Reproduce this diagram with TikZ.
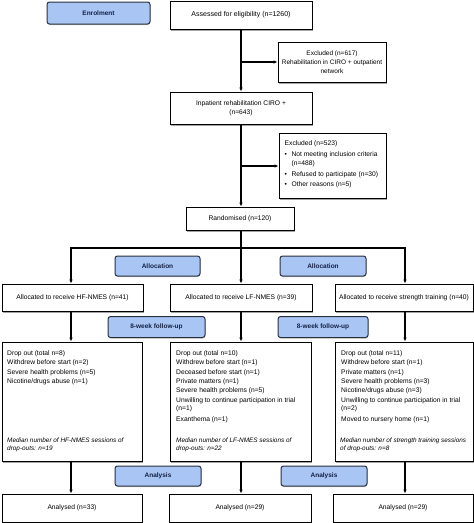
\documentclass[tikz,border=0pt]{standalone}
\usepackage{fontspec}
\setmainfont{Liberation Sans}
\usetikzlibrary{arrows.meta,shadows}
\definecolor{hdrfill}{RGB}{168,197,244}
\definecolor{hdrline}{RGB}{40,48,60}
\definecolor{hdrtext}{RGB}{22,34,70}
\begin{document}
\begin{tikzpicture}[x=1pt,y=-1pt,
  font=\fontsize{6.7}{8.5}\selectfont,
  box/.style={draw=black,line width=1pt,fill=white,inner sep=0pt,
    drop shadow={shadow xshift=0.6pt,shadow yshift=-1.8pt,fill=black!45,opacity=0.8}},
  hdr/.style={draw=hdrline,line width=1pt,fill=hdrfill,rounded corners=2.5pt,inner sep=0pt,
    font=\fontsize{6.5}{8}\selectfont\bfseries,text=hdrtext,
    drop shadow={shadow xshift=0.4pt,shadow yshift=-1pt,fill=black!30,opacity=0.6}},
  txt/.style={inner sep=0pt,align=left},
  lst/.style={txt,anchor=base west,font=\fontsize{6.7}{8.3}\selectfont},
  med/.style={txt,anchor=base west,font=\fontsize{6.4}{8.3}\selectfont\itshape},
  arr/.style={line width=1.1pt,-{Latex[length=4pt,width=3.6pt]}},
  ln/.style={line width=1.1pt}]
\useasboundingbox (0,0) rectangle (474,523);

% headers
\node[hdr,minimum width=103pt,minimum height=22pt] (enrol) at (98.5,13) {Enrolment};
\node[hdr,minimum width=85pt,minimum height=20pt] (alloc1) at (157.5,266) {Allocation};
\node[hdr,minimum width=86pt,minimum height=20pt] (alloc2) at (323,266) {Allocation};
\node[hdr,minimum width=97pt,minimum height=21pt] (fu1) at (156.5,327) {8-week follow-up};
\node[hdr,minimum width=90pt,minimum height=21pt] (fu2) at (323,327) {8-week follow-up};
\node[hdr,minimum width=86pt,minimum height=20pt] (an1) at (158,476) {Analysis};
\node[hdr,minimum width=86pt,minimum height=20pt] (an2) at (324,476) {Analysis};

% top boxes
\node[box,minimum width=142pt,minimum height=28pt,font=\fontsize{7}{8.5}\selectfont] (assess) at (241,15) {Assessed for eligibility (n=1260)};
\node[box,minimum width=108pt,minimum height=40pt,align=center,font=\fontsize{6.5}{9}\selectfont] (excl1) at (332,62)
  {Excluded (n=617)\\Rehabilitation in CIRO + outpatient\\network};
\node[box,minimum width=142pt,minimum height=32pt,align=center,font=\fontsize{6.7}{9}\selectfont] (inpat) at (241,108)
  {Inpatient rehabilitation CIRO +\\(n=643)};
\node[box,minimum width=107pt,minimum height=65pt] (excl2) at (332.5,165.5) {};
\node[txt,anchor=base west] (excl2t) at (284.5,145.5) {%
  \begin{tabular}[t]{@{}l@{\hspace{4.5pt}}l@{}}
  \multicolumn{2}{@{}l}{Excluded (n=523)}\\[2.5pt]
  \textbullet & Not meeting inclusion criteria\\
   & (n=488)\\[2.5pt]
  \textbullet & Refused to participate (n=30)\\[1.5pt]
  \textbullet & Other reasons (n=5)
  \end{tabular}};
\node[box,minimum width=108pt,minimum height=23pt] (rand) at (240,218.5) {Randomised (n=120)};

% allocated
\node[box,minimum width=141pt,minimum height=27pt] (allocA) at (72.5,297.5) {Allocated to receive HF-NMES (n=41)};
\node[box,minimum width=142pt,minimum height=27pt] (allocB) at (241,297.5) {Allocated to receive LF-NMES (n=39)};
\node[box,minimum width=138pt,minimum height=27pt] (allocC) at (404,297.5) {Allocated to receive strength training (n=40)};

% drop out
\node[box,minimum width=140pt,minimum height=119pt] (dropA) at (72,401.5) {};
\node[box,minimum width=141pt,minimum height=119pt] (dropB) at (240.5,401.5) {};
\node[box,minimum width=138pt,minimum height=119pt] (dropC) at (404,401.5) {};

\node[lst] (dropAt) at (7,355.5) {%
  \begin{tabular}[t]{@{}l@{}}
  Drop out (total n=8)\\[1pt]
  Withdrew before start (n=2)\\[1pt]
  Severe health problems (n=5)\\[1pt]
  Nicotine/drugs abuse (n=1)
  \end{tabular}};
\node[lst] (dropBt) at (176,355.5) {%
  \begin{tabular}[t]{@{}l@{}}
  Drop out (total n=10)\\[1pt]
  Withdrew before start (n=1)\\[1pt]
  Deceased before start (n=1)\\[1pt]
  Private matters (n=1)\\[1pt]
  Severe health problems (n=5)\\[1pt]
  Unwilling to continue participation in trial\\
  (n=1)\\[2.7pt]
  Exanthema (n=1)
  \end{tabular}};
\node[lst] (dropCt) at (341,355.5) {%
  \begin{tabular}[t]{@{}l@{}}
  Drop out (total n=11)\\[1pt]
  Withdrew before start (n=1)\\[1pt]
  Private matters (n=1)\\[1pt]
  Severe health problems (n=3)\\[1pt]
  Nicotine/drugs abuse (n=3)\\[1pt]
  Unwilling to continue participation in trial\\
  (n=2)\\[2.7pt]
  Moved to nursery home (n=1)
  \end{tabular}};

\node[med] (medA) at (7,442.5) {%
  \begin{tabular}[t]{@{}l@{}}Median number of HF-NMES sessions of\\drop-outs: n=19\end{tabular}};
\node[med] (medB) at (176,442.5) {%
  \begin{tabular}[t]{@{}l@{}}Median number of LF-NMES sessions of\\drop-outs: n=22\end{tabular}};
\node[med] (medC) at (340,442.5) {%
  \begin{tabular}[t]{@{}l@{}}Median number of strength training sessions\\of drop-outs: n=8\end{tabular}};

% analysed
\node[box,minimum width=140pt,minimum height=28pt] (anA) at (72,508) {Analysed (n=33)};
\node[box,minimum width=142pt,minimum height=28pt] (anB) at (240,508) {Analysed (n=29)};
\node[box,minimum width=140pt,minimum height=28pt] (anC) at (403,508) {Analysed (n=29)};

% connectors
\coordinate (c1) at (assess.south |- excl1.west);
\coordinate (c2) at (241,166);
\coordinate (jm) at (241,248);
\coordinate (jl) at (71,248);
\coordinate (jr) at (405,248);
\draw[arr] (assess.south) -- (inpat.north);
\draw[arr] (c1) -- (excl1.west);
\draw[arr] (inpat.south) -- (inpat.south |- rand.north);
\draw[arr] (c2) -- (c2 -| excl2.west);
\draw[ln] (rand.south -| jm) -- (jm);
\draw[ln,line cap=rect] (jl) -- (jr);
\draw[arr] (jl) -- (jl |- allocA.north);
\draw[arr] (jm) -- (jm |- allocB.north);
\draw[arr] (jr) -- (jr |- allocC.north);
\draw[arr] (allocA.south -| jl) -- (jl |- dropA.north);
\draw[arr] (allocB.south -| jm) -- (jm |- dropB.north);
\draw[arr] (allocC.south -| jr) -- (jr |- dropC.north);
\draw[arr] (dropA.south -| jl) -- (jl |- anA.north);
\draw[arr] (dropB.south -| jm) -- (jm |- anB.north);
\draw[arr] (dropC.south -| jr) -- (jr |- anC.north);
\end{tikzpicture}
\end{document}
